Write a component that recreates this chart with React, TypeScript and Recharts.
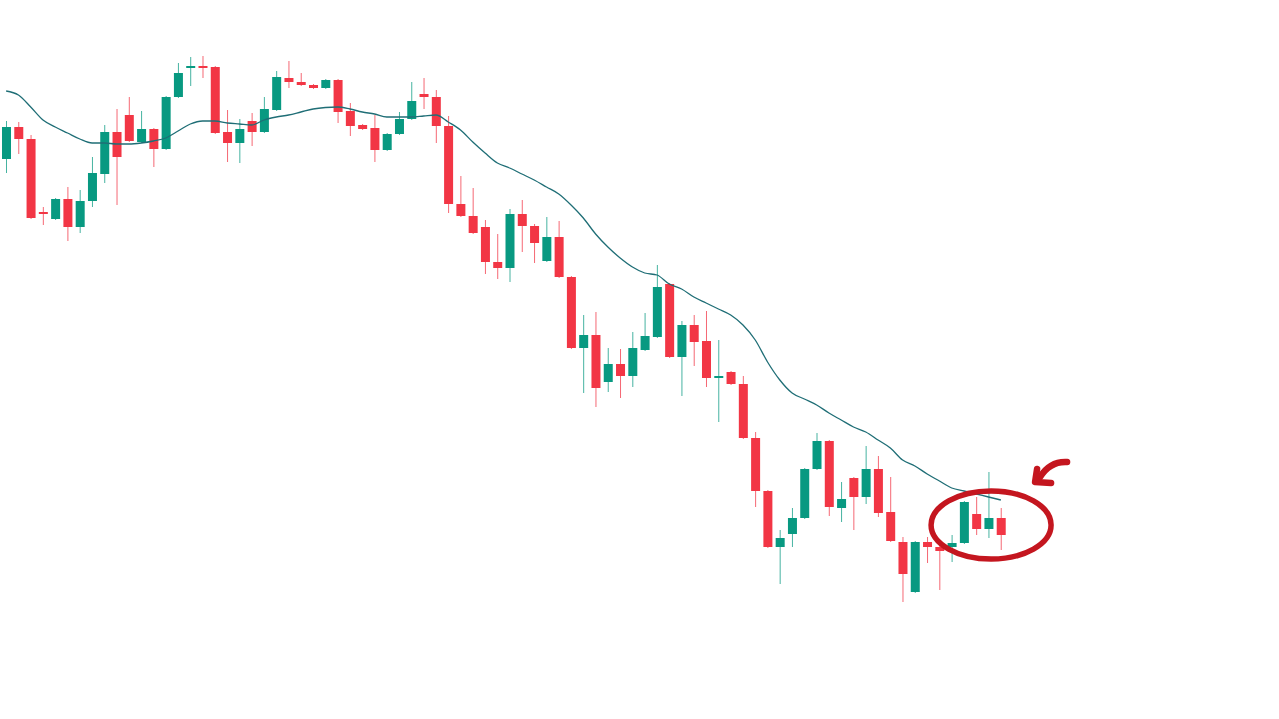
import React from 'react';
import { ComposedChart, Bar, Line, XAxis, YAxis, ReferenceDot } from 'recharts';

const labels: string[] = Array.from({ length: 82 }, (_, i) => String(i + 1));

const opens = [560,592,580,507,500,520,492,518,545,587,604,577,590,570,622,651,653,652,587,576,598,587,609,641,637,634,631,639,608,594,591,569,585,600,625,622,593,515,503,492,457,451,505,493,458,482,442,371,384,337,355,343,369,382,435,362,394,378,341,347,335,281,228,172,185,201,250,278,211,241,222,250,207,177,127,177,172,172,176,205,190,201];
const highs = [598,597,584,512,521,532,529,562,594,610,622,608,591,623,656,662,663,653,609,600,606,622,648,658,646,635,640,640,616,595,604,586,607,637,641,629,603,543,531,499,485,510,519,495,502,498,443,404,407,371,370,387,406,454,436,398,404,408,379,348,343,287,229,189,211,251,286,279,237,242,273,263,242,182,178,182,179,184,218,222,247,211];
const lows = [546,565,500,494,499,478,486,512,536,514,577,576,552,569,621,633,641,585,557,556,573,586,608,631,633,630,630,596,583,589,557,568,584,599,610,576,506,502,485,445,440,437,467,456,457,441,370,326,312,327,321,332,368,381,361,323,353,332,297,334,280,212,171,135,172,200,249,203,197,189,215,202,177,117,126,156,129,157,175,184,181,169];
const closes = [592,580,501,505,520,492,518,546,587,562,578,590,570,622,646,653,652,586,576,590,587,610,642,637,634,631,639,607,593,590,569,585,600,618,622,593,515,503,486,457,451,505,493,476,482,442,371,384,331,355,343,371,383,432,362,394,377,341,343,335,281,228,172,181,201,250,278,212,220,222,250,206,178,145,177,172,168,176,217,190,201,184];
const movingAvg = [628,624,612,599,592,586,580,576,576,575,575,576,578,581,588,595,598,598,596,595,594,599,602,604,607,610,611.5,612,610,607,605,602,602,602,603,604,597,589,577,566,556,551,545,539,532,525,514,501,485,472,461,452,446,444,435,430,422,416,410,404,394,379,357,339,326,320,314,306,299,292,287,279,271,259,253,245,238,231,228,225,222,219];

const UP = '#089981';
const DOWN = '#F23645';

const data = labels.map((label, i) => ({
  label,
  open: opens[i],
  high: highs[i],
  low: lows[i],
  close: closes[i],
  ma: movingAvg[i],
}));

const Candle = (props: any) => {
  const { x, y, width, height, payload } = props;
  if (x == null || y == null) return null;
  const { open, close, high, low } = payload;
  const top = Math.min(y, y + height);
  const h = Math.abs(height);
  const span = high - low || 1;
  const toPix = (v: number) => top + ((high - v) / span) * h;
  const color = close >= open ? UP : DOWN;
  const yo = toPix(open);
  const yc = toPix(close);
  const bodyTop = Math.min(yo, yc);
  const bodyH = Math.max(Math.abs(yo - yc), 2);
  const cx = x + width / 2;
  return (
    <g>
      <line x1={cx} x2={cx} y1={top} y2={top + h} stroke={color} strokeWidth={1} strokeOpacity={0.75} />
      <rect x={x} y={bodyTop} width={width} height={bodyH} fill={color} />
    </g>
  );
};

const Annotation = (props: any) => {
  const { cx, cy } = props;
  if (cx == null || cy == null) return null;
  const ex = cx + 2.5;
  const ey = cy;
  const red = '#C4161F';
  return (
    <g>
      <ellipse cx={ex} cy={ey} rx={60} ry={34} fill="none" stroke={red} strokeWidth={5.5} />
      <path
        d={`M ${ex + 76} ${ey - 63} Q ${ex + 59} ${ey - 64} ${ex + 49} ${ey - 48}`}
        fill="none"
        stroke={red}
        strokeWidth={6.5}
        strokeLinecap="round"
      />
      <path
        d={`M ${ex + 46} ${ey - 56} L ${ex + 44} ${ey - 43} L ${ex + 60} ${ey - 42}`}
        fill="none"
        stroke={red}
        strokeWidth={6.5}
        strokeLinecap="round"
        strokeLinejoin="round"
      />
    </g>
  );
};

export default function App() {
  return (
    <div style={{ position: 'absolute', left: 0, top: 0, width: 1279, height: 719, background: '#ffffff' }}>
      <ComposedChart
        width={1279}
        height={719}
        data={data}
        margin={{ top: 0, right: 272, bottom: 0, left: 0 }}
        barCategoryGap={0}
      >
        <XAxis dataKey="label" hide />
        <YAxis hide domain={[0, 719]} type="number" allowDataOverflow />
        <Line
          type="monotone"
          dataKey="ma"
          stroke="#1f6e76"
          strokeWidth={1.3}
          dot={false}
          activeDot={false}
          isAnimationActive={false}
        />
        <Bar
          dataKey={(d: any) => [d.low, d.high]}
          barSize={9}
          shape={<Candle />}
          activeBar={false}
          isAnimationActive={false}
        />
        <ReferenceDot x="81" y={194} r={0} ifOverflow="visible" shape={(p: any) => <Annotation {...p} />} />
      </ComposedChart>
    </div>
  );
}
